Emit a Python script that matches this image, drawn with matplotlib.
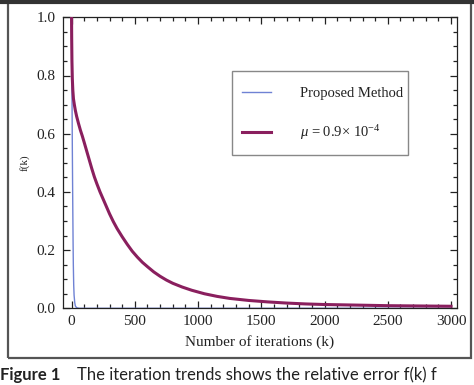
import matplotlib
matplotlib.use("Agg")
import matplotlib.pyplot as plt
from matplotlib.patches import Rectangle
from matplotlib.lines import Line2D
from matplotlib.ticker import MultipleLocator

# ---- data ----
k_proposed = [0, 2, 4, 6, 8, 10, 12, 14, 17, 20, 25, 30, 40, 60, 3000]
f_proposed = [1.0, 0.85, 0.70, 0.56, 0.44, 0.33, 0.23, 0.15, 0.08, 0.045, 0.02, 0.008, 0.002, 0.0, 0.0]

k_mu = [0, 1, 3, 6, 10, 15, 22, 30, 40, 55, 70, 85, 100, 120, 140, 160, 180, 200, 225,
        250, 275, 300, 330, 360, 400, 440, 480, 520, 560, 600, 650, 700, 750, 800, 875,
        950, 1050, 1150, 1250, 1400, 1550, 1700, 1850, 2000, 2250, 2500, 2750, 3000]
f_mu = [1.0, 0.93, 0.85, 0.79, 0.75, 0.72, 0.70, 0.68, 0.66, 0.635, 0.612, 0.592, 0.57,
        0.54, 0.51, 0.48, 0.452, 0.428, 0.40, 0.375, 0.35, 0.325, 0.298, 0.274, 0.246,
        0.22, 0.196, 0.176, 0.158, 0.143, 0.125, 0.11, 0.097, 0.086, 0.073, 0.062, 0.05,
        0.041, 0.034, 0.027, 0.022, 0.018, 0.015, 0.013, 0.011, 0.009, 0.008, 0.007]

label_proposed = "Proposed Method"
label_mu = r"$\mu$ = 0.9$\times$ 10$^{-4}$"
x_ticks = [0, 500, 1000, 1500, 2000, 2500, 3000]
y_ticks = [0.0, 0.2, 0.4, 0.6, 0.8, 1.0]
caption_bold = "Figure 1"
caption_text = "The iteration trends shows the relative error f(k) f"

plt.rcParams['font.family'] = ['Liberation Serif', 'DejaVu Serif']
plt.rcParams['mathtext.fontset'] = 'custom'
plt.rcParams['mathtext.rm'] = 'Liberation Serif'
plt.rcParams['mathtext.it'] = 'Liberation Serif:italic'

W, H = 474, 385
fig = plt.figure(figsize=(W / 100, H / 100), dpi=100)
ax_l, ax_r, ax_t, ax_b = 62.7, 457.0, 17.3, 308.3
ax = fig.add_axes([ax_l / W, 1 - ax_b / H, (ax_r - ax_l) / W, (ax_b - ax_t) / H])

ax.plot(k_proposed, f_proposed, color='#6f82d4', lw=1.0, label=label_proposed, zorder=2)
ax.plot(k_mu, f_mu, color='#8a1f5e', lw=2.2, label=label_mu, zorder=3)

ax.set_xlim(-70, 3047)
ax.set_ylim(0, 1.0)
ax.set_xticks(x_ticks)
ax.set_yticks(y_ticks)
ax.set_xticklabels([str(t) for t in x_ticks])
ax.set_yticklabels([f"{t:.1f}" for t in y_ticks])
ax.xaxis.set_minor_locator(MultipleLocator(100))
ax.yaxis.set_minor_locator(MultipleLocator(0.05))
ax.tick_params(which='both', direction='in', top=True, right=True, width=0.9,
               labelsize=11, pad=5, colors='#222')
ax.tick_params(which='major', length=5)
ax.tick_params(which='minor', length=2.8)
for s in ax.spines.values():
    s.set_linewidth(0.9)
    s.set_color('#222')

ax.set_xlabel("Number of iterations (k)", fontsize=11, labelpad=5, color='#222')
ax.set_ylabel("f(k)", fontsize=8, labelpad=5, color='#222')

# legend frame (pixel box) and legend entries
def ax_x(px):
    return (px - ax_l) / (ax_r - ax_l)

def ax_y(py):
    return (ax_b - py) / (ax_b - ax_t)

ax.add_patch(Rectangle((ax_x(232), ax_y(155)), ax_x(408) - ax_x(232), ax_y(71) - ax_y(155),
                       transform=ax.transAxes, fill=True, facecolor='white',
                       edgecolor='#888888', lw=1.0, zorder=4))
leg = ax.legend(loc='upper left', bbox_to_anchor=(ax_x(242), ax_y(87)), fontsize=10.5,
                frameon=False, handlelength=2.0, handletextpad=2.0, labelspacing=1.6,
                borderpad=0.0, borderaxespad=0)
leg.set_zorder(5)
for t in leg.get_texts():
    t.set_color('#222')

# outer frame of the figure panel
fig.patches.append(Rectangle((8 / W, 1 - 358 / H), 463 / W, 358 / H + 0.01,
                             transform=fig.transFigure, fill=False,
                             edgecolor='#555555', lw=1.6))
fig.lines.append(Line2D([0, 1], [1 - 1.5 / H, 1 - 1.5 / H], transform=fig.transFigure,
                        color='#333333', lw=3))

# caption
cap_y = 1 - 380 / H
fig.text(0.0, cap_y, caption_bold, fontsize=12, fontweight='bold',
         family=['Lato', 'DejaVu Sans'], va='baseline', ha='left', color='#222')
fig.text(77 / W, cap_y, caption_text,
         fontsize=12, family=['Lato', 'DejaVu Sans'], va='baseline', ha='left', color='#222')

fig.savefig("out.png", dpi=100)
